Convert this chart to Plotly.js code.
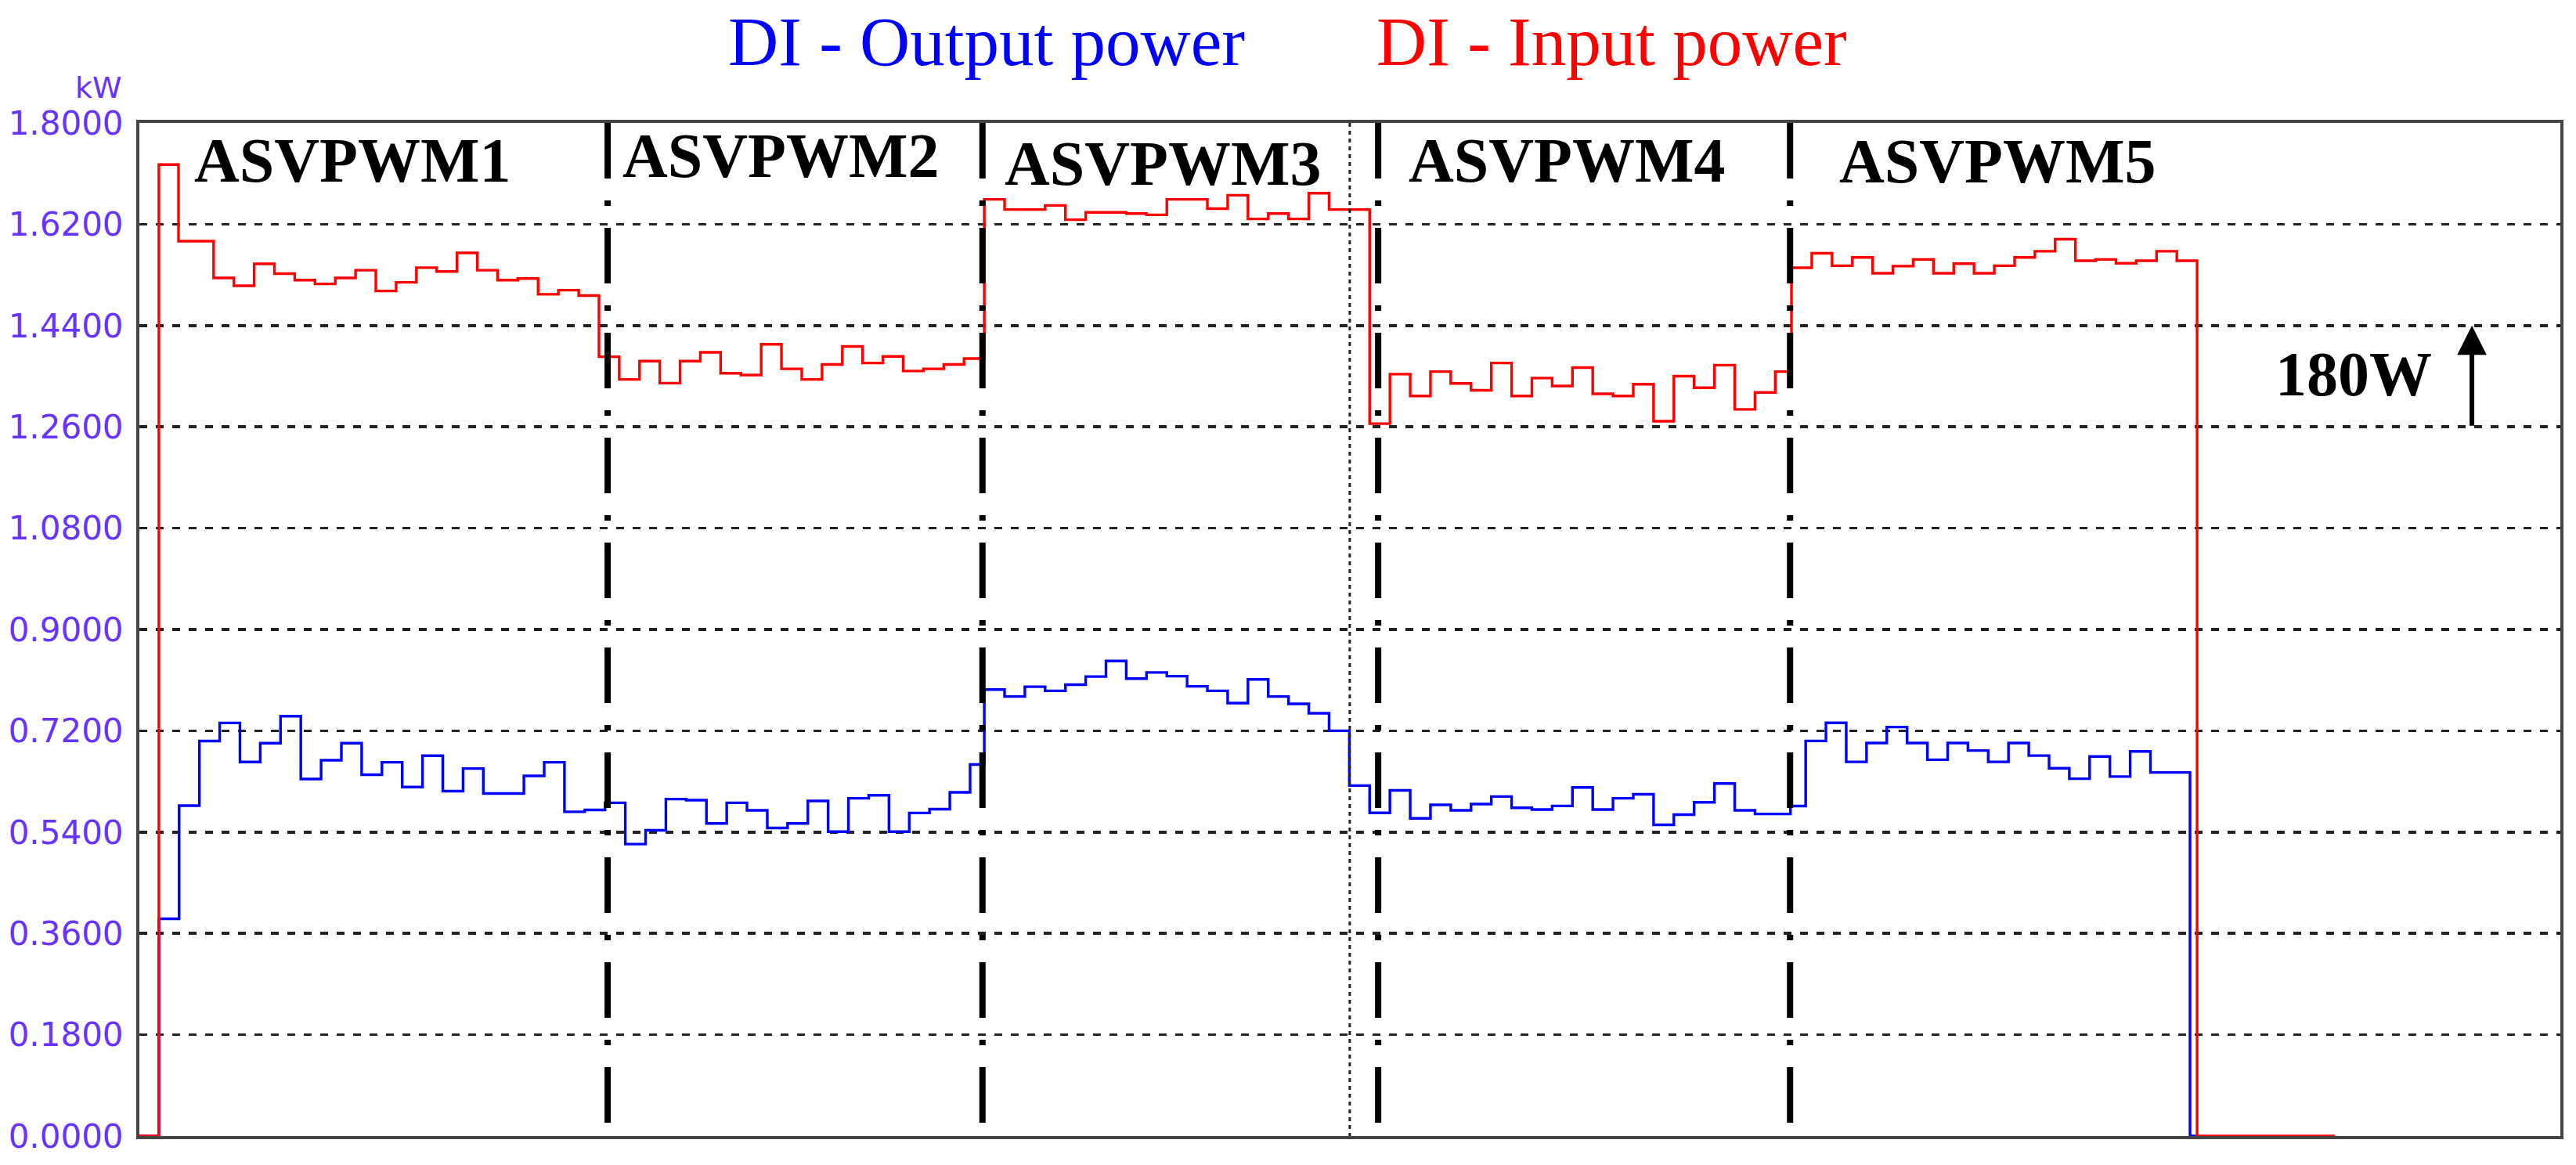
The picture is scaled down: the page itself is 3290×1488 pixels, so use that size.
<!DOCTYPE html>
<html>
<head>
<meta charset="utf-8">
<script src="https://cdn.plot.ly/plotly-3.0.1.min.js"></script>
<style>
html,body{margin:0;padding:0;background:#fff;}
#chart{width:3290px;height:1488px;}
</style>
</head>
<body>
<div id="chart"></div>
<script>
// ---- data (time in sample periods, power in kW) ----
const timeRange = [-0.66, 118.71];

const segmentNames = ["ASVPWM1", "ASVPWM2", "ASVPWM3", "ASVPWM4", "ASVPWM5"];
const segmentLabelT = [9.84, 30.96, 49.78, 69.72, 90.97];
const segmentLabelY = [1.733, 1.742, 1.728, 1.733, 1.732];
const separatorT = [22.43, 40.91, 60.42, 80.73];
const dottedT = [59.02];

// Input power (red)
const inStart = [0.3, 22, 41, 60, 80.8];
const inPhase = [0, 0, 0, 0, 0.8];
const inFirstSampleEnd = 1.27;   // the start-up peak of segment 1 ends here
const inEnd = 100.8;
const inZeroEnd = 107.6;
const in1 = [1.726, 1.590, 1.590, 1.5245, 1.5107, 1.5497, 1.5323, 1.5208, 1.5139, 1.5245, 1.5383,
             1.5015, 1.5167, 1.5429, 1.536, 1.569, 1.5383, 1.5208, 1.5236, 1.4956, 1.5029, 1.4933];
const in2 = [1.3846, 1.3442, 1.3768, 1.3376, 1.3768, 1.3924, 1.3552, 1.352, 1.4067, 1.3631,
             1.3442, 1.3709, 1.4028, 1.3735, 1.3852, 1.3592, 1.3631, 1.3709, 1.3813];
const in3 = [1.6642, 1.6461, 1.6461, 1.6534, 1.628, 1.641, 1.641, 1.6389, 1.6367, 1.6642,
             1.6642, 1.6476, 1.6715, 1.6294, 1.6389, 1.6294, 1.6751, 1.6461, 1.6461];
const in4 = [1.2656, 1.3537, 1.3148, 1.3582, 1.3371, 1.325, 1.3735, 1.3148, 1.3467, 1.3326,
             1.3652, 1.3186, 1.3148, 1.3358, 1.27, 1.3499, 1.3295, 1.3697, 1.2911, 1.3211, 1.3582];
const in5 = [1.5426, 1.5684, 1.5463, 1.561, 1.533, 1.5456, 1.5574, 1.533, 1.55, 1.533,
             1.5463, 1.561, 1.5721, 1.5935, 1.5551, 1.5574, 1.5507, 1.5551, 1.5721, 1.5551];

// Output power (blue)
const outStart = [0.3, 22.3, 41, 59, 80.75];
const outPhase = [0.3, 0.3, 0, 0, 0.5];
const outEnd = 100.45;
const outZeroEnd = 100.8;
const out1 = [0.386, 0.587, 0.7018, 0.734, 0.6645, 0.698, 0.746, 0.6343, 0.6678, 0.698, 0.642,
              0.664, 0.62, 0.6757, 0.6128, 0.6529, 0.6086, 0.6086, 0.6398, 0.664, 0.576, 0.5793];
const out2 = [0.592, 0.5187, 0.5433, 0.5987, 0.5967, 0.5553, 0.592, 0.5787, 0.5473, 0.5553,
              0.5954, 0.5407, 0.6, 0.6054, 0.5407, 0.574, 0.5807, 0.6107, 0.66];
const out3 = [0.7932, 0.7809, 0.7983, 0.791, 0.8019, 0.8164, 0.844, 0.8128, 0.8237, 0.8171,
              0.799, 0.791, 0.7693, 0.8113, 0.7809, 0.7679, 0.7512, 0.72];
const out4 = [0.6226, 0.5742, 0.6142, 0.5645, 0.5884, 0.5787, 0.5897, 0.6032, 0.5832, 0.58,
              0.5865, 0.6194, 0.58, 0.6, 0.6071, 0.5529, 0.571, 0.5929, 0.6264, 0.5787, 0.5723];
const out5 = [0.5863, 0.702, 0.7342, 0.6647, 0.6983, 0.7267, 0.6983, 0.6685, 0.6983, 0.6849,
              0.6647, 0.6983, 0.6759, 0.6535, 0.6348, 0.6744, 0.6386, 0.6834, 0.646];

const yTicks = [0, 0.18, 0.36, 0.54, 0.72, 0.9, 1.08, 1.26, 1.44, 1.62, 1.8];

// ---- build step series: each segment starts at its start time, then
// samples follow on the recorder's sampling grid (period 1) ----
function buildSeries(starts, phases, segs, end, zeroEnd) {
  const xs = [timeRange[0]], ys = [0];
  segs.forEach((vals, s) => {
    const st = starts[s], ph = phases[s];
    const g = Math.floor(st - ph + 1e-9) + 1 + ph;
    vals.forEach((v, k) => {
      xs.push(k === 0 ? st : g + (k - 1));
      ys.push(v);
    });
  });
  xs.push(end); ys.push(0);
  xs.push(zeroEnd); ys.push(0);
  return {x: xs, y: ys};
}

const inp = buildSeries(inStart, inPhase, [in1, in2, in3, in4, in5], inEnd, inZeroEnd);
inp.x[2] = inFirstSampleEnd;
const outp = buildSeries(outStart, outPhase, [out1, out2, out3, out4, out5], outEnd, outZeroEnd);

const traces = [
  {x: outp.x, y: outp.y, type: 'scatter', mode: 'lines', line: {shape: 'hv', color: '#0000ff', width: 3.4}, name: 'DI - Output power'},
  {x: inp.x, y: inp.y, type: 'scatter', mode: 'lines', line: {shape: 'hv', color: '#ff0000', width: 3.4}, name: 'DI - Input power'}
];

const shapes = [];
separatorT.forEach(t => shapes.push({
  type: 'line', xref: 'x', yref: 'paper', x0: t, x1: t, y0: 1, y1: 0,
  line: {color: '#000', width: 8, dash: '71px,28px,7px,28px'}
}));
dottedT.forEach(t => shapes.push({
  type: 'line', xref: 'x', yref: 'paper', x0: t, x1: t, y0: 1, y1: 0,
  line: {color: '#222', width: 3, dash: '5px,5px'}
}));

const annotations = [];
segmentNames.forEach((n, i) => annotations.push({
  text: n, x: segmentLabelT[i], y: segmentLabelY[i], xref: 'x', yref: 'y',
  xanchor: 'center', yanchor: 'middle', showarrow: false,
  font: {family: 'Liberation Serif, Times New Roman, serif', size: 80, color: '#000', weight: 700}
}));
annotations.push({
  text: 'DI - Output power', xref: 'paper', yref: 'paper', x: 0.35, y: 1.0805,
  xanchor: 'center', yanchor: 'middle', showarrow: false,
  font: {family: 'Liberation Serif, Times New Roman, serif', size: 89, color: '#0000ff'}
});
annotations.push({
  text: 'DI - Input power', xref: 'paper', yref: 'paper', x: 0.6083, y: 1.0805,
  xanchor: 'center', yanchor: 'middle', showarrow: false,
  font: {family: 'Liberation Serif, Times New Roman, serif', size: 89, color: '#ff0000'}
});
annotations.push({
  text: 'kW', xref: 'paper', yref: 'paper', x: -0.0065, y: 1.0351,
  xanchor: 'right', yanchor: 'middle', showarrow: false,
  font: {family: 'DejaVu Sans, Verdana, sans-serif', size: 38, color: '#6633ff'}
});
annotations.push({
  text: '180W', xref: 'x', yref: 'y', x: 108.5, y: 1.3528,
  xanchor: 'center', yanchor: 'middle', showarrow: false,
  font: {family: 'Liberation Serif, Times New Roman, serif', size: 80, color: '#000', weight: 700}
});
annotations.push({
  text: '', xref: 'x', yref: 'y', x: 114.35, y: 1.44,
  axref: 'x', ayref: 'y', ax: 114.35, ay: 1.26,
  showarrow: true, arrowhead: 2, arrowsize: 1.25, arrowwidth: 6, arrowcolor: '#000'
});

const layout = {
  width: 3290, height: 1488,
  margin: {l: 178, r: 20, t: 157, b: 37, pad: 0},
  paper_bgcolor: '#fff', plot_bgcolor: '#fff',
  showlegend: false,
  xaxis: {
    range: timeRange, showticklabels: false, ticks: '', showgrid: false, zeroline: false,
    showline: true, mirror: true, linecolor: '#444', linewidth: 4, fixedrange: true
  },
  yaxis: {
    range: [0, 1.8], tickvals: yTicks, tickformat: '.4f', ticks: '',
    showgrid: true, gridcolor: '#222', gridwidth: 3.5, griddash: '10px,11px',
    zeroline: false, showline: true, mirror: true, linecolor: '#444', linewidth: 4,
    ticklabelstandoff: 8,
    tickfont: {family: 'DejaVu Sans, Verdana, sans-serif', size: 42, color: '#6633ff'},
    fixedrange: true
  },
  shapes: shapes,
  annotations: annotations
};

Plotly.newPlot('chart', traces, layout, {displayModeBar: false, staticPlot: true});
</script>
</body>
</html>
